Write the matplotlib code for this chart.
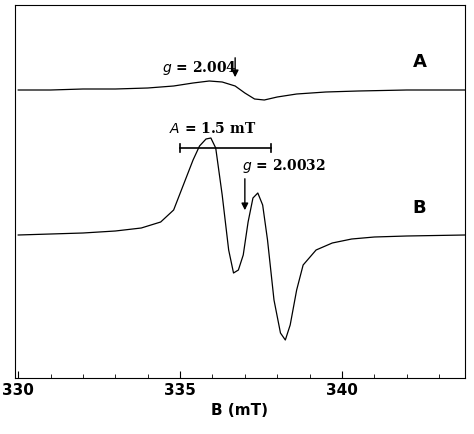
import matplotlib.pyplot as plt

# spectrum A (field in mT, signal in picture units, larger = lower)
field_a = [330.0, 331.0, 332.0, 333.0, 334.0, 334.8, 335.4, 335.9, 336.3, 336.7, 337.0, 337.3, 337.6, 338.0, 338.6, 339.5, 340.5, 342.0, 343.8]
sig_a = [90, 90, 89, 89, 88, 86, 83, 81, 82, 86, 93, 99, 100, 97, 94, 92, 91, 90, 90]

# spectrum B
field_b = [330.0, 331.0, 332.0, 333.0, 333.8, 334.4, 334.8, 335.1, 335.4, 335.6, 335.8, 335.95, 336.1, 336.3, 336.5, 336.65, 336.8, 336.95,
           337.1, 337.25, 337.4, 337.55, 337.7, 337.9, 338.1, 338.25, 338.4, 338.6, 338.8, 339.2, 339.7, 340.3, 341.0, 342.0, 343.8]
sig_b = [235, 234, 233, 231, 228, 222, 210, 185, 160, 146, 139, 138, 148, 195, 250, 273, 270, 255,
         222, 198, 193, 205, 240, 300, 333, 340, 325, 290, 265, 250, 243, 239, 237, 236, 235]

ticks = [330, 335, 340]

fig = plt.figure(figsize=(4.74, 4.34), dpi=100)
ax = fig.add_axes([15 / 474, 56 / 434, 450 / 474, 373 / 434])
ax.plot(field_a, sig_a, color='black', lw=0.9)
ax.plot(field_b, sig_b, color='black', lw=0.9)
ax.set_xlim(329.9, 343.8)
ax.set_ylim(378, 5)
ax.set_yticks([])
ax.set_xticks(ticks)
ax.set_xticklabels([str(t) for t in ticks], fontweight='bold', fontsize=11)
ax.set_xlabel('B (mT)', fontweight='bold', fontsize=11)
ax.tick_params(axis='x', direction='in', length=5)
ax.minorticks_on()
ax.tick_params(axis='x', which='minor', direction='in', length=3)
ax.tick_params(axis='y', which='minor', left=False)

ax.annotate('', xy=(336.7, 80), xytext=(336.7, 55), arrowprops=dict(arrowstyle='-|>', color='black', lw=1))
ax.text(335.6, 72, r'$g$ = 2.004', ha='center', fontsize=10, fontweight='bold', family='DejaVu Serif')
ax.text(342.4, 62, 'A', ha='center', va='center', fontsize=13, fontweight='bold')
ax.text(342.4, 208, 'B', ha='center', va='center', fontsize=13, fontweight='bold')

ax.plot([335.0, 337.8], [148, 148], color='black', lw=1.2)
ax.plot([335.0, 335.0], [144, 152], color='black', lw=1.2)
ax.plot([337.8, 337.8], [144, 152], color='black', lw=1.2)
ax.text(336.0, 133, r'$A$ = 1.5 mT', ha='center', fontsize=10, fontweight='bold', family='DejaVu Serif')

ax.annotate('', xy=(337.0, 213), xytext=(337.0, 176), arrowprops=dict(arrowstyle='-|>', color='black', lw=1))
ax.text(338.2, 170, r'$g$ = 2.0032', ha='center', fontsize=10, fontweight='bold', family='DejaVu Serif')

fig.savefig('out.png', dpi=100)
